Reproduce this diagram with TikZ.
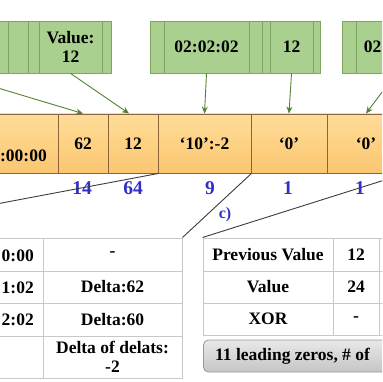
\documentclass[tikz,border=0pt]{standalone}
\usepackage{fontspec}
\setmainfont{Liberation Serif}
\usepackage{tikz}
\usetikzlibrary{shapes, arrows.meta, positioning}
\definecolor{cellgreen}{RGB}{169,208,142}
\definecolor{edgegreen}{RGB}{125,165,95}
\definecolor{arrowgreen}{RGB}{84,130,53}
\definecolor{orangetop}{RGB}{255,220,152}
\definecolor{orangebot}{RGB}{251,198,112}
\definecolor{edgeorange}{RGB}{140,100,55}
\definecolor{numblue}{RGB}{48,48,200}
\definecolor{tabgray}{RGB}{200,200,200}
\definecolor{linegray}{RGB}{60,60,60}
\newcommand{\bigfont}{\bfseries\fontsize{17.5}{19}\selectfont}

\begin{document}
\begin{tikzpicture}
  [
    x=1pt, y=-1pt,
    GreenCell/.style={rectangle, draw=edgegreen, fill=cellgreen, line width=0.8pt, minimum height=52pt, inner sep=0pt, font=\bigfont, align=center},
    OrangeCell/.style={rectangle, draw=edgeorange, top color=orangetop, bottom color=orangebot, line width=0.9pt, minimum height=59pt, inner sep=0pt, font=\bigfont},
    TabCell/.style={rectangle, draw=tabgray, line width=1pt, inner sep=0pt, font=\bigfont, align=center},
    Num/.style={text=numblue, font=\bfseries\fontsize{19.5}{21}\selectfont},
    Feed/.style={-{Stealth[length=7pt,width=6pt]}, draw=arrowgreen, line width=0.9pt},
    Link/.style={draw=linegray, line width=0.9pt}
  ]
  \clip (0,0) rectangle (382,382);
  % Green blocks
  \node[GreenCell, minimum width=18pt] (gA) at (-1,47) {};
  \node[GreenCell, minimum width=20pt] (gB) at (18,47) {};
  \node[GreenCell, minimum width=11pt] (gC) at (33.5,47) {};
  \node[GreenCell, minimum width=63pt] (gVal) at (70.5,47) {Value:\\12};
  \node[GreenCell, minimum width=9pt] (gD) at (106.5,47) {};
  \node[GreenCell, minimum width=14pt] (gE) at (157,47) {};
  \node[GreenCell, minimum width=85pt] (gTime) at (206.5,47) {02:02:02};
  \node[GreenCell, minimum width=13pt] (gF) at (255.5,47) {};
  \node[GreenCell, minimum width=8pt] (gG) at (266,47) {};
  \node[GreenCell, minimum width=43pt] (gTwelve) at (291.5,47) {12};
  \node[GreenCell, minimum width=7pt] (gH) at (316.5,47) {};
  \node[GreenCell, minimum width=14pt] (gI) at (349,47) {};
  \node[GreenCell, minimum width=80pt] (gTimeR) at (396,47) {02\phantom{:02:02}};
  \coordinate (offA) at (-52,73);
  % Orange block
  \node[OrangeCell, minimum width=98pt] (oT) at (9,143.5) {};
  \node[font=\bigfont, anchor=east, inner sep=0pt] (oTtext) at (47,156) {:00:00};
  \node[OrangeCell, minimum width=50pt] (o62) at (83,143.5) {62};
  \node[OrangeCell, minimum width=50pt] (o12) at (133,143.5) {12};
  \node[OrangeCell, minimum width=93pt] (o10) at (204.5,143.5) {‘10’:-2};
  \node[OrangeCell, minimum width=76pt] (oZa) at (289,143.5) {‘0’};
  \node[OrangeCell, minimum width=78pt] (oZb) at (366,143.5) {‘0’};
  % Bit counts
  \node[Num] (n62) at (82,188) {14};
  \node[Num] (n12) at (133,188) {64};
  \node[Num] (n10) at (210,188) {9};
  \node[Num] (nZa) at (288,188) {1};
  \node[Num] (nZb) at (360,188) {1};
  % Delta table
  \node[TabCell, minimum width=88pt, minimum height=33pt] (dL1) at (-1,254.5) {};
  \node[TabCell, minimum width=88pt, minimum height=32pt] (dL2) at (-1,287) {};
  \node[TabCell, minimum width=88pt, minimum height=33pt] (dL3) at (-1,319.5) {};
  \node[TabCell, minimum width=88pt, minimum height=42pt] (dL4) at (-1,357) {};
  \node[font=\bigfont, anchor=east, inner sep=0pt] at (34,256) {0:00};
  \node[font=\bigfont, anchor=east, inner sep=0pt] at (34,288) {1:02};
  \node[font=\bigfont, anchor=east, inner sep=0pt] at (34,320) {2:02};
  \node[TabCell, minimum width=139pt, minimum height=33pt] (dR1) at (112.5,254.5) {-};
  \node[TabCell, minimum width=139pt, minimum height=32pt] (dR2) at (112.5,287) {Delta:62};
  \node[TabCell, minimum width=139pt, minimum height=33pt] (dR3) at (112.5,319.5) {Delta:60};
  \node[TabCell, minimum width=139pt, minimum height=42pt] (dR4) at (112.5,357) {Delta of delats:\\-2};
  \coordinate (offB) at (-184,238);
  % XOR table
  \node[TabCell, minimum width=130pt, minimum height=33pt] (xP) at (268,254.5) {Previous Value};
  \node[TabCell, minimum width=130pt, minimum height=32pt] (xV) at (268,287) {Value};
  \node[TabCell, minimum width=130pt, minimum height=32pt] (xX) at (268,319) {XOR};
  \node[TabCell, minimum width=46pt, minimum height=33pt] (xP2) at (356,254.5) {12};
  \node[TabCell, minimum width=46pt, minimum height=32pt] (xV2) at (356,287) {24};
  \node[TabCell, minimum width=46pt, minimum height=32pt] (xX2) at (356,319) {-};
  \node[TabCell, minimum width=61pt, minimum height=33pt] (xP3) at (409.5,254.5) {};
  \node[TabCell, minimum width=61pt, minimum height=32pt] (xV3) at (409.5,287) {};
  \node[TabCell, minimum width=61pt, minimum height=32pt] (xX3) at (409.5,319) {};
  \node[rectangle, rounded corners=5pt, draw=gray!80, top color=gray!18, bottom color=gray!45, line width=0.8pt, minimum width=260pt, minimum height=32pt, anchor=west] (note) at (203,356) {};
  \node[font=\bigfont, anchor=west, inner sep=0pt] (notetext) at (215,356) {11 leading zeros, \# of};
  \node[text=numblue, font=\bfseries\fontsize{16}{18}\selectfont] (lc) at (225,215) {c)};
  % Arrows
  \draw[Feed] (offA) -- (o62.north);
  \draw[Feed] (gVal.south) -- ([xshift=-4pt]o12.north);
  \draw[Feed] (gTime.south) -- (o10.north);
  \draw[Feed] (gTwelve.south) -- (oZa.north);
  \draw[Feed] (gTimeR.south) -- (oZb.north);
  % Lines
  \draw[Link] (o12.south east) -- (offB);
  \draw[Link] (o10.south east) -- (dR1.north east);
  \draw[Link] (oZb.south east) -- (xP.north west);
\end{tikzpicture}
\end{document}
